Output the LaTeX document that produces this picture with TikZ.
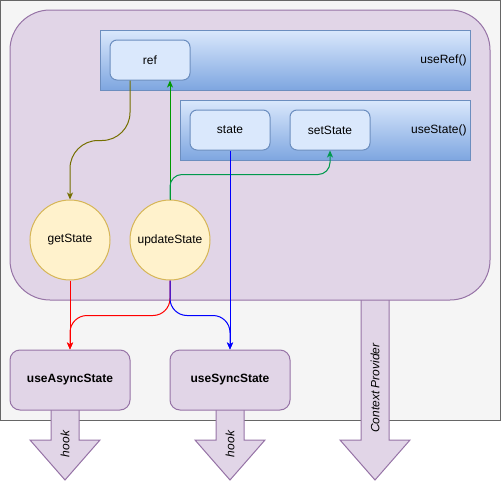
\documentclass[tikz,border=0pt]{standalone}
\usepackage{fontspec}
\setmainfont{Liberation Sans}
\usetikzlibrary{arrows.meta,positioning}
\definecolor{framebg}{HTML}{F5F5F5}
\definecolor{frameline}{HTML}{666666}
\definecolor{purplebg}{HTML}{E1D5E7}
\definecolor{purpleline}{HTML}{9673A6}
\definecolor{bluetop}{HTML}{DAE8FC}
\definecolor{bluebot}{HTML}{7EA6E0}
\definecolor{blueline}{HTML}{6C8EBF}
\definecolor{yellowbg}{HTML}{FFF2CC}
\definecolor{yellowline}{HTML}{D6B656}
\definecolor{oliveedge}{HTML}{756F00}
\definecolor{greenedge}{HTML}{009900}
\definecolor{tealedge}{HTML}{00994D}
\newcommand{\blockdown}[2]{%
  \draw[bigarrow] ({#1-14},#2) -- ({#1-14},440) -- ({#1-35},440) -- (#1,480)
    -- ({#1+35},440) -- ({#1+14},440) -- ({#1+14},#2) -- cycle;}

\begin{document}
\begin{tikzpicture}[x=1pt,y=-1pt,line width=1pt,
  every node/.style={font=\fontsize{12}{14}\selectfont,inner sep=0pt},
  container/.style={draw=purpleline,fill=purplebg,rounded corners=40pt,minimum width=480pt,minimum height=290pt},
  group/.style={draw=blueline,top color=bluetop,bottom color=bluebot,minimum height=60pt},
  slot/.style={draw=blueline,fill=bluetop,rounded corners=7pt,minimum width=80pt,minimum height=40pt},
  fn/.style={circle,draw=yellowline,fill=yellowbg,minimum size=80pt},
  hookbox/.style={draw=purpleline,fill=purplebg,rounded corners=10pt,minimum width=120pt,minimum height=60pt,
    font=\fontsize{12}{14}\selectfont\bfseries},
  bigarrow/.style={draw=purpleline,fill=purplebg},
  arrowlabel/.style={rotate=90,font=\fontsize{12}{14}\selectfont\itshape},
  edge/.style={-{Stealth[length=7pt,width=6pt,inset=2pt]},rounded corners=17pt}]
  \useasboundingbox (0,0) rectangle (501,482);
  \draw[draw=frameline,fill=framebg] (0.5,0.5) rectangle (500.5,420);

  % provider arrow sits behind the hooks area
  \blockdown{375}{290}
  \node[container] (hooks) at (250,155) {};

  \node[group,minimum width=370pt] (useRefBox) at (285,60) {};
  \node[anchor=east] (useRefLabel) at (467,60) {useRef()};
  \node[group,minimum width=290pt] (useStateBox) at (325,130) {};
  \node[anchor=east] (useStateLabel) at (467,130) {useState()};

  \node[slot] (ref) at (150,60) {ref};
  \node[slot] (state) at (230,130) {state};
  \node[slot] (setState) at (330,130) {setState};

  \node[fn] (getState) at (70,240) {getState};
  \node[fn] (updateState) at (170,240) {updateState};

  % hooks handed out
  \blockdown{65}{400}
  \blockdown{230}{400}
  \node[hookbox] (useAsyncState) at (70,380) {useAsyncState};
  \node[hookbox] (useSyncState) at (230,380) {useSyncState};

  \node[arrowlabel] (hookAsync) at (65,444) {hook};
  \node[arrowlabel] (hookSync) at (230,444) {hook};
  \node[arrowlabel] (provider) at (375,388) {Context Provider};

  \draw[edge,oliveedge,rounded corners=28pt] ([xshift=-20pt]ref.south) -- ++(0,60) -| (getState.north);
  \draw[edge,greenedge] (updateState.north) -- (updateState.north |- ref.south);
  \draw[edge,tealedge,rounded corners=12pt] (updateState.north) -- ++(0,-25) -| (setState.south);
  \draw[edge,blue] (state.south) -- (useSyncState.north);
  \draw[edge,red] (getState.south) -- (useAsyncState.north);
  \draw[edge,red] (updateState.south) -- ++(0,35) -| (useAsyncState.north);
  \draw[edge,blue] (updateState.south) -- ++(0,35) -| (useSyncState.north);
\end{tikzpicture}
\end{document}
